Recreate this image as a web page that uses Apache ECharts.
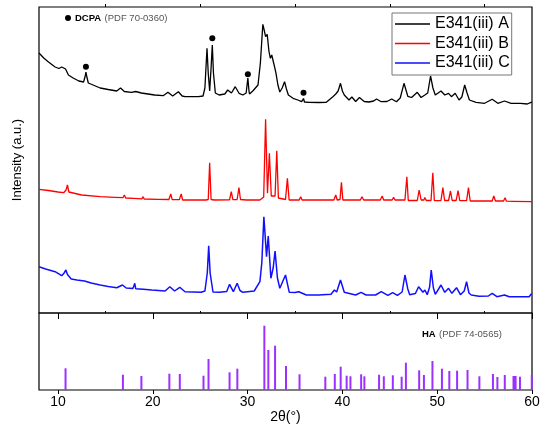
<!DOCTYPE html>
<html>
<head>
<meta charset="utf-8">
<script src="https://cdn.jsdelivr.net/npm/echarts@6/dist/echarts.min.js"></script>
<style>
html,body{margin:0;padding:0;background:#fff;}
#chart{width:550px;height:428px;}
</style>
</head>
<body>
<div id="chart"></div>
<script>
// ---- data (2θ in degrees, intensity in arbitrary units) ----
var seriesNames = ['E341(iii) A', 'E341(iii) B', 'E341(iii) C'];
var majorTicks = [10, 20, 30, 40, 50, 60];
var minorTicks = [15, 25, 35, 45, 55];

var traceA = [
[8.0,260],[8.5,255],[9.0,251],[9.7,246],[10.1,244.5],[10.4,246],[10.6,247],[10.8,244],[11.1,238],[11.6,235],[12.2,232],[12.7,231],[12.85,236],[12.95,241],[13.05,236],[13.2,230],[13.7,228],[14.45,225],[15.3,223.5],[16.2,222],[16.6,225],[17.0,221.5],[17.75,220.7],[18.2,221.5],[18.8,220],[19.5,219],[20.2,218],[21.1,217.3],[21.6,220.7],[22.1,217],[22.7,221.3],[23.1,217],[23.4,216.3],[24.8,216.3],[25.3,217],[25.5,225],[25.72,264.7],[25.85,240],[26.0,222],[26.15,245],[26.28,268],[26.4,240],[26.6,220],[27.0,218],[27.6,219],[27.9,223],[28.3,220],[28.7,226.3],[29.1,219.7],[29.5,218],[29.85,220],[30.03,235],[30.15,222],[30.2,219],[30.55,222],[31.1,228],[31.35,250],[31.61,288.7],[31.75,283],[31.9,276.3],[32.07,278.7],[32.25,262],[32.4,254.7],[32.55,258],[32.67,256.3],[32.85,246],[33.0,239.7],[33.2,228],[33.4,221],[33.65,225],[33.9,231.3],[34.1,224],[34.3,218],[34.8,214.7],[35.3,213],[35.7,211.3],[35.9,214.5],[36.0,211],[36.5,210.7],[37.5,210.5],[38.3,210.7],[39.0,216.3],[39.3,219],[39.55,222],[39.8,229.7],[40.0,222],[40.2,218],[40.7,213],[41.0,216],[41.4,211.5],[41.8,215.5],[42.3,211.5],[42.8,211],[43.3,212],[43.6,214],[44.1,211.3],[44.7,211.5],[45.2,214],[45.7,211.3],[46.1,215],[46.5,229.7],[46.9,216.7],[47.3,215.5],[47.9,220.7],[48.3,215.5],[48.7,218],[49.0,220],[49.3,237],[49.55,225],[49.8,218],[50.4,222],[50.8,218],[51.2,219.7],[51.5,216.3],[51.9,219.7],[52.3,213],[52.6,216],[52.9,228],[53.15,220],[53.4,213],[54.1,210.7],[55.0,209.7],[55.8,213.7],[56.4,209.7],[57.1,212],[57.8,209.7],[58.8,209.7],[59.5,209],[59.9,210.7],[60,211]
];

var traceB = [
[8.0,123.7],[9.0,122.5],[10.0,121],[10.6,120.3],[10.85,123],[11.0,128],[11.15,121],[11.3,119.3],[12.5,118],[14.45,116.3],[16.0,115.7],[16.85,115.3],[17.0,118],[17.15,115],[18.0,114.7],[18.85,114.2],[18.98,116.3],[19.1,114],[20.5,113.7],[21.7,113.5],[21.9,119],[22.05,113.3],[22.8,113.3],[23.0,119],[23.15,113],[24.5,113],[25.3,113],[25.45,115],[25.6,113],[25.85,113.5],[26.0,150.3],[26.15,113.5],[26.5,113],[28.1,113.2],[28.28,121.3],[28.45,113.3],[28.9,113.5],[29.09,125.3],[29.25,113.5],[29.9,113],[31.3,113],[31.7,116],[31.9,193.7],[32.1,119.7],[32.3,159.7],[32.5,117],[32.9,117],[33.08,162.3],[33.25,115],[33.4,113],[34.0,113.5],[34.2,134.7],[34.38,113],[35.45,113],[35.6,116.3],[35.75,113],[39.1,113],[39.3,118],[39.45,113],[39.75,113.5],[39.9,130.7],[40.05,113],[41.9,113],[42.07,116.3],[42.25,113],[44.0,113],[44.2,117],[44.35,113],[45.25,113],[45.4,115.7],[45.55,113],[46.6,113],[46.8,136.3],[46.95,112.5],[47.9,112.5],[48.1,123],[48.3,113],[48.6,113],[48.7,115.5],[48.85,112.5],[49.35,112.5],[49.54,140.3],[49.7,112.3],[50.4,112.5],[50.6,125.3],[50.78,112.5],[51.2,112.5],[51.4,122],[51.58,112.5],[52.0,112.5],[52.2,122.3],[52.38,112.3],[53.1,112.3],[53.3,125.3],[53.48,112],[55.8,112],[55.97,117],[56.15,112],[57.0,112],[57.16,115.3],[57.3,111.8],[58.0,111.7],[58.1,113],[58.2,111.6],[60,111.3]
];

var traceC = [
[8.0,46.3],[8.7,44],[9.7,41.3],[10.4,37.3],[10.65,40],[10.84,43],[11.0,38.5],[11.4,34],[12.0,33],[12.8,32],[13.5,30],[14.45,28],[15.3,26.5],[16.2,25.3],[16.8,28],[17.2,25],[17.9,24.5],[18.0,27],[18.1,29.7],[18.2,24.3],[19.0,23.7],[19.9,23],[21.3,22],[21.8,26.3],[22.3,22],[22.85,25.7],[23.4,21.3],[24.3,21],[25.1,20.7],[25.5,22],[25.75,40],[25.9,67.3],[26.05,40],[26.35,21],[27.0,20.7],[27.8,21.5],[28.1,28.7],[28.5,21.3],[28.9,29.7],[29.2,22.5],[29.5,20.7],[30.7,22],[31.3,31.3],[31.5,50],[31.72,96.3],[32.0,56.3],[32.18,77],[32.46,34.7],[32.7,45],[32.9,62],[33.15,35],[33.4,24.7],[34.0,38],[34.4,20.7],[35.0,20.5],[35.4,21.3],[36.2,18],[37.5,18],[38.8,18.7],[39.16,23],[39.4,21],[39.8,33],[40.2,20.7],[41.4,18],[41.97,20.7],[42.5,18],[43.5,18],[44.1,21.3],[44.8,17.7],[45.3,20.3],[45.8,17.7],[46.3,21],[46.6,38],[46.9,24],[47.1,18.3],[47.7,19.5],[48.04,26.3],[48.5,20.7],[48.7,23],[48.95,18.3],[49.2,26],[49.37,43],[49.6,25],[49.8,18.7],[50.4,28],[50.8,20.7],[51.2,24.7],[51.55,19.7],[52.04,25.3],[52.45,18.3],[52.85,22],[53.1,31.3],[53.35,20],[53.6,18],[54.4,16.7],[55.4,17],[55.8,19.7],[56.3,16.3],[57.1,18],[57.6,16.3],[58.5,16.3],[59.7,16.3],[59.9,18.7],[60,19]
];

// DCPA reflections marked on trace A
var dcpaMarks = [[12.95,246.3],[26.28,274.7],[30.03,238.7],[35.9,220.3]];

// HA reference pattern (PDF 74-0565): [2θ, relative intensity]
var haSticks = [
[10.8,21.7],[16.85,15.3],[18.8,14],[21.75,16.3],[22.85,16],[25.35,14.3],[25.88,31],[28.1,17.7],[28.92,21.3],[31.77,64.3],[32.19,40],[32.9,44.3],[34.05,24],[35.48,15.7],[38.2,13.3],[39.2,16],[39.82,23.3],[40.45,14.3],[40.85,13.7],[41.98,15.7],[42.32,13.7],[43.87,15.3],[44.37,13.7],[45.32,14.7],[46.25,13.3],[46.7,27.3],[48.1,19.7],[48.6,15],[49.5,29],[50.5,21.3],[51.28,19],[52.1,19.3],[53.2,20],[54.45,13.7],[55.88,16],[56.35,13],[57.13,15],[58.05,14],[58.13,14],[58.27,14],[58.73,13.3],[59.98,15]
];

var FONT = "'Liberation Sans', Arial, sans-serif";
var chart = echarts.init(document.getElementById('chart'), null, {renderer: 'canvas'});

function xAx(grid, ticks, len, labels, name) {
  return {
    type: 'value', gridIndex: grid, min: 8, max: 60,
    axisLine: {show: false},
    splitLine: {show: false},
    axisTick: {show: true, length: len, customValues: ticks, lineStyle: {color: '#000', width: 1}},
    axisLabel: labels ? {show: true, customValues: ticks, fontSize: 14, color: '#000', fontFamily: FONT, margin: 5} : {show: false},
    name: name || '', nameLocation: 'middle', nameGap: 19,
    nameTextStyle: {fontSize: 14, color: '#000', fontFamily: FONT}
  };
}

var option = {
  animation: false,
  backgroundColor: '#fff',
  grid: [
    {left: 39, right: 18, top: 7, height: 306, show: true, borderColor: '#000', borderWidth: 1.2, backgroundColor: 'transparent'},
    {left: 39, right: 18, top: 313, height: 77, show: true, borderColor: '#000', borderWidth: 1.2, backgroundColor: 'transparent'}
  ],
  xAxis: [
    xAx(0, majorTicks, 6, false),
    xAx(0, minorTicks, 3, false),
    xAx(1, majorTicks, 4, true, '2θ(°)'),
    xAx(1, minorTicks, 2, false)
  ],
  yAxis: [
    {type: 'value', gridIndex: 0, min: 0, max: 306,
     axisLine: {show: false}, axisTick: {show: false}, axisLabel: {show: false}, splitLine: {show: false},
     name: 'Intensity (a.u.)', nameLocation: 'middle', nameGap: 15,
     nameTextStyle: {fontSize: 13, color: '#000', fontFamily: FONT}},
    {type: 'value', gridIndex: 1, min: 0, max: 77,
     axisLine: {show: false}, axisTick: {show: false}, axisLabel: {show: false}, splitLine: {show: false}}
  ],
  legend: {
    data: seriesNames,
    left: 392, top: 13, orient: 'vertical',
    icon: 'rect',
    padding: [3, 2, 4, 3], itemGap: 3.5, itemWidth: 35, itemHeight: 1.6,
    borderColor: '#777', borderWidth: 1, backgroundColor: '#fff',
    textStyle: {fontSize: 16, color: '#000', fontFamily: FONT, lineHeight: 16}
  },
  series: [
    {name: seriesNames[0], type: 'line', xAxisIndex: 0, yAxisIndex: 0, data: traceA, symbol: 'none', lineStyle: {color: '#000', width: 1.3}, itemStyle: {color: '#000'}},
    {name: seriesNames[1], type: 'line', xAxisIndex: 0, yAxisIndex: 0, data: traceB, symbol: 'none', lineStyle: {color: '#ff0000', width: 1.3}, itemStyle: {color: '#ff0000'}},
    {name: seriesNames[2], type: 'line', xAxisIndex: 0, yAxisIndex: 0, data: traceC, symbol: 'none', lineStyle: {color: '#1010ff', width: 1.5}, itemStyle: {color: '#1010ff'}},
    {name: 'DCPA', type: 'scatter', xAxisIndex: 0, yAxisIndex: 0, data: dcpaMarks, symbol: 'circle', symbolSize: 6, itemStyle: {color: '#000', opacity: 1}, z: 5},
    {name: 'HA', type: 'bar', xAxisIndex: 2, yAxisIndex: 1, data: haSticks, barWidth: 2, itemStyle: {color: '#9b30ff'}}
  ],
  graphic: [
    {type: 'circle', shape: {cx: 68, cy: 18, r: 3}, style: {fill: '#000'}},
    {type: 'text', left: 75, top: 12.5, style: {
      text: '{b|DCPA} {g|(PDF 70-0360)}',
      rich: {
        b: {fontSize: 9.5, fontWeight: 'bold', fill: '#000', fontFamily: FONT},
        g: {fontSize: 9.5, fill: '#555', fontFamily: FONT}
      }
    }},
    {type: 'text', left: 422, top: 328.5, style: {
      text: '{b|HA} {g|(PDF 74-0565)}',
      rich: {
        b: {fontSize: 9.5, fontWeight: 'bold', fill: '#000', fontFamily: FONT},
        g: {fontSize: 9.5, fill: '#555', fontFamily: FONT}
      }
    }}
  ]
};
chart.setOption(option);
</script>
</body>
</html>
